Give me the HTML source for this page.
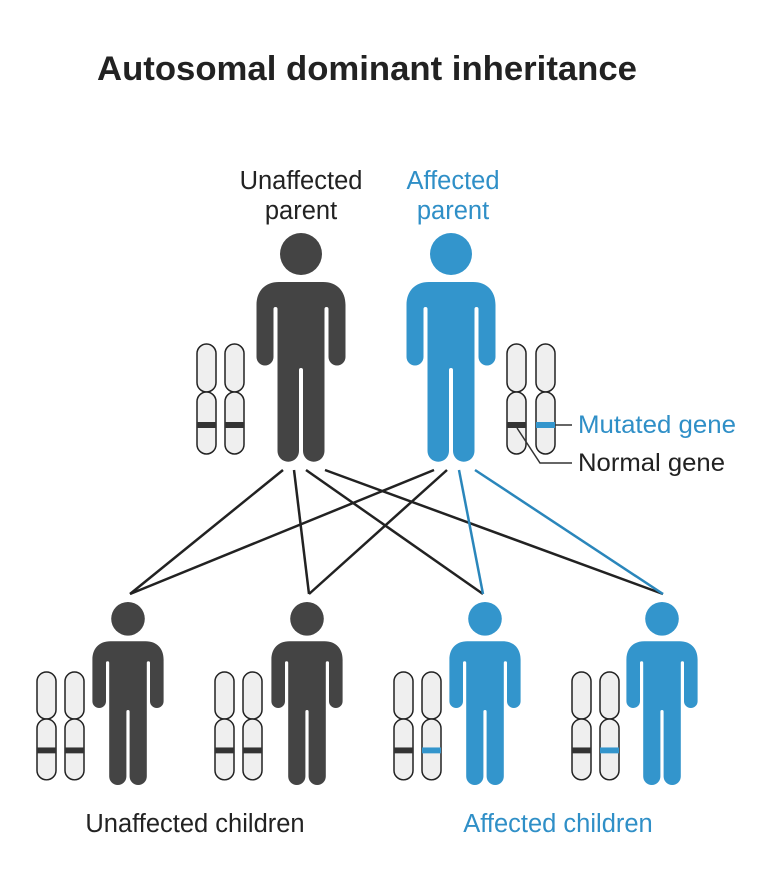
<!DOCTYPE html>
<html><head><meta charset="utf-8"><style>
html,body{margin:0;padding:0;background:#fff}
svg{display:block}
text{font-family:"Liberation Sans",sans-serif}
</style></head><body>
<svg width="768" height="880" viewBox="0 0 768 880" xmlns="http://www.w3.org/2000/svg">
<defs>
<g id="p">
<circle cx="0" cy="21" r="21"/>
<path d="M -44.5 72 C -44.5 58 -36 49 -22 49 H 22 C 36 49 44.5 58 44.5 72 V 124 A 8.5 8.5 0 0 1 27.5 124 V 76 A 2 2 0 0 0 23.5 76 V 218 A 10.75 10.75 0 0 1 2 218 V 137 A 2 2 0 0 0 -2 137 V 218 A 10.75 10.75 0 0 1 -23.5 218 V 76 A 2 2 0 0 0 -27.5 76 V 124 A 8.5 8.5 0 0 1 -44.5 124 Z"/>
</g>
<g id="c" fill="#efefef" stroke="#222" stroke-width="1.5">
<rect x="0" y="0" width="19" height="48" rx="9.5"/>
<rect x="0" y="48" width="19" height="62" rx="9.5"/>
</g>
</defs>
<text x="97" y="80" font-size="34.5" font-weight="bold" fill="#222" textLength="540" lengthAdjust="spacingAndGlyphs">Autosomal dominant inheritance</text>
<g font-size="25.5" text-anchor="middle">
<text x="301" y="189" fill="#222">Unaffected</text>
<text x="301" y="219" fill="#222">parent</text>
<text x="453" y="189" fill="#2f8fc7">Affected</text>
<text x="453" y="219" fill="#2f8fc7">parent</text>
<text x="195" y="832" fill="#222">Unaffected children</text>
<text x="558" y="832" fill="#2f8fc7">Affected children</text>
</g>
<text x="578" y="433" font-size="25" fill="#2f8fc7" textLength="158" lengthAdjust="spacingAndGlyphs">Mutated gene</text>
<text x="578" y="471" font-size="25" fill="#222" textLength="147" lengthAdjust="spacingAndGlyphs">Normal gene</text>
<g stroke="#222" stroke-width="2.5" fill="none">
<line x1="283" y1="470" x2="130" y2="594"/>
<line x1="294" y1="470" x2="309" y2="594"/>
<line x1="306" y1="470" x2="483" y2="594"/>
<line x1="325" y1="470" x2="663" y2="594"/>
<line x1="434" y1="470" x2="130" y2="594"/>
<line x1="447" y1="470" x2="309" y2="594"/>
</g>
<g stroke="#2a86bb" stroke-width="2.5">
<line x1="459" y1="470" x2="483" y2="594"/>
<line x1="475" y1="470" x2="663" y2="594"/>
</g>
<use href="#p" transform="translate(301,233)" fill="#444"/>
<use href="#p" transform="translate(451,233)" fill="#3395cc"/>
<use href="#c" x="197" y="344"/><use href="#c" x="225" y="344"/>
<rect x="197" y="422" width="19" height="6" fill="#333"/><rect x="225" y="422" width="19" height="6" fill="#333"/>
<use href="#c" x="507" y="344"/><use href="#c" x="536" y="344"/>
<rect x="507" y="422" width="19" height="6" fill="#333"/><rect x="536" y="422" width="19" height="6" fill="#3395cc"/>
<g stroke="#333" stroke-width="1.5" fill="none">
<line x1="555" y1="425" x2="572" y2="425"/>
<polyline points="517,428 540,463 572,463"/>
</g>
<g transform="translate(128,602) scale(0.8)" fill="#444"><use href="#p"/></g>
<g transform="translate(307,602) scale(0.8)" fill="#444"><use href="#p"/></g>
<g transform="translate(485,602) scale(0.8)" fill="#3395cc"><use href="#p"/></g>
<g transform="translate(662,602) scale(0.8)" fill="#3395cc"><use href="#p"/></g>
<g transform="translate(0,672) scale(1,0.98)">
<use href="#c" x="37"/><use href="#c" x="65"/>
<rect x="37" y="77" width="19" height="6" fill="#333"/><rect x="65" y="77" width="19" height="6" fill="#333"/>
<use href="#c" x="215"/><use href="#c" x="243"/>
<rect x="215" y="77" width="19" height="6" fill="#333"/><rect x="243" y="77" width="19" height="6" fill="#333"/>
<use href="#c" x="394"/><use href="#c" x="422"/>
<rect x="394" y="77" width="19" height="6" fill="#333"/><rect x="422" y="77" width="19" height="6" fill="#3395cc"/>
<use href="#c" x="572"/><use href="#c" x="600"/>
<rect x="572" y="77" width="19" height="6" fill="#333"/><rect x="600" y="77" width="19" height="6" fill="#3395cc"/>
</g>
</svg>
</body></html>
